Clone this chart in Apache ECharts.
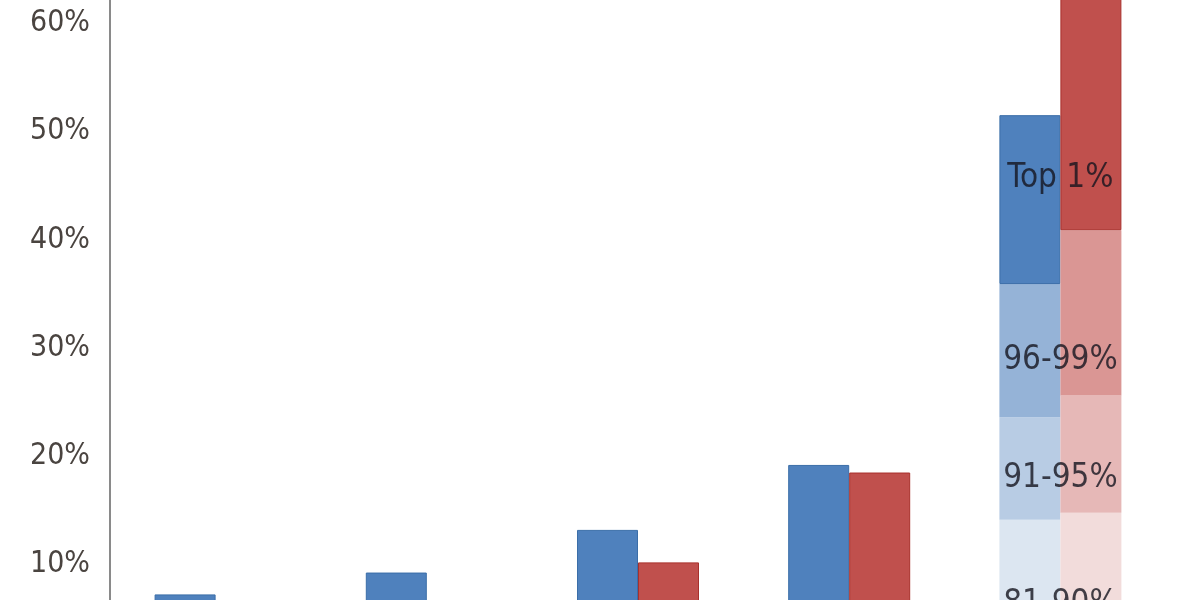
<!DOCTYPE html>
<html>
<head>
<meta charset="utf-8">
<script src="https://cdn.jsdelivr.net/npm/echarts@6/dist/echarts.min.js"></script>
<style>
html,body{margin:0;padding:0;background:#fff;overflow:hidden;width:1200px;height:600px;}
#wrap{position:relative;width:1200px;height:600px;overflow:hidden;}
#chart{position:absolute;left:0;top:-100px;width:1200px;height:800px;}
</style>
</head>
<body>
<div id="wrap"><div id="chart"></div></div>
<script>
// Categories (income quintiles; the axis labels fall outside the visible crop)
const categories = ['Bottom 20%', 'Second 20%', 'Middle 20%', 'Fourth 20%', 'Top 20%'];

// Blue series: quintile shares, top quintile split into sub-groups
const blueBase  = [7.24, 9.26, 13.2, 19.2, 14.14];   // last = 81-90%
const blue9195  = [null, null, null, null, 9.47];
const blue9699  = [null, null, null, null, 12.3];
const blueTop1  = [null, null, null, null, 15.6];

// Red series
const redBase   = [1.9, 5.1, 10.2, 18.5, 14.78];     // last = 81-90%
const red9195   = [null, null, null, null, 10.84];
const red9699   = [null, null, null, null, 15.26];
const redTop1   = [null, null, null, null, 23.4];

// Sub-group labels on the top quintile
const segLabels   = ['81-90%', '91-95%', '96-99%', 'Top 1%'];
const segLabelPos = [6.3, 17.95, 28.9, 45.7];

// Y tick settings
const yMin = 0, yMax = 70, yStep = 10;

const FONT = "'DejaVu Sans Condensed', 'DejaVu Sans', sans-serif";

function withLast(arr, lastColor) {
  return arr.map((v, i) => (i === arr.length - 1 && v != null)
    ? { value: v, itemStyle: { color: lastColor, borderWidth: 0 } } : v);
}

const chart = echarts.init(document.getElementById('chart'));
const barW = 61;
const option = {
  animation: false,
  backgroundColor: '#ffffff',
  grid: { left: 110, right: 34, top: 11.2, bottom: 27.2, containLabel: false },
  xAxis: {
    type: 'category',
    data: categories,
    axisLine: { show: false },
    axisTick: { show: false },
    axisLabel: { show: false }
  },
  yAxis: {
    type: 'value',
    min: yMin, max: yMax, interval: yStep,
    axisLine: { show: true, lineStyle: { color: '#8a8a8a', width: 2 } },
    axisTick: { show: false },
    splitLine: { show: false },
    axisLabel: {
      formatter: '{value}%',
      margin: 20,
      color: '#4a4440',
      fontSize: 30,
      fontFamily: FONT
    }
  },
  series: [
    { type: 'bar', stack: 'blue', barWidth: barW, barGap: '0%', data: withLast(blueBase, '#DCE6F1'),
      itemStyle: { color: '#4F81BD', borderColor: '#3b6ea8', borderWidth: 1 } },
    { type: 'bar', stack: 'blue', barWidth: barW, barGap: '0%', data: blue9195,
      itemStyle: { color: '#B8CCE4' } },
    { type: 'bar', stack: 'blue', barWidth: barW, barGap: '0%', data: blue9699,
      itemStyle: { color: '#95B3D7' } },
    { type: 'bar', stack: 'blue', barWidth: barW, barGap: '0%', data: blueTop1,
      itemStyle: { color: '#4F81BD', borderColor: '#3b6ea8', borderWidth: 1 } },
    { type: 'bar', stack: 'red', barWidth: barW, barGap: '0%', data: withLast(redBase, '#F2DCDB'),
      itemStyle: { color: '#C0504D', borderColor: '#a8302c', borderWidth: 1 } },
    { type: 'bar', stack: 'red', barWidth: barW, barGap: '0%', data: red9195,
      itemStyle: { color: '#E6B8B7' } },
    { type: 'bar', stack: 'red', barWidth: barW, barGap: '0%', data: red9699,
      itemStyle: { color: '#DA9694' } },
    { type: 'bar', stack: 'red', barWidth: barW, barGap: '0%', data: redTop1,
      itemStyle: { color: '#C0504D', borderColor: '#a8302c', borderWidth: 1 } },
    { type: 'scatter', symbolSize: 0, z: 10,
      data: segLabels.map((t, i) => ({ name: t, value: [categories[categories.length - 1], segLabelPos[i]] })),
      label: { show: true, position: 'inside', formatter: p => p.name,
               color: '#14141e', fontSize: 33, fontFamily: FONT } }
  ]
};
chart.setOption(option);
</script>
</body>
</html>
